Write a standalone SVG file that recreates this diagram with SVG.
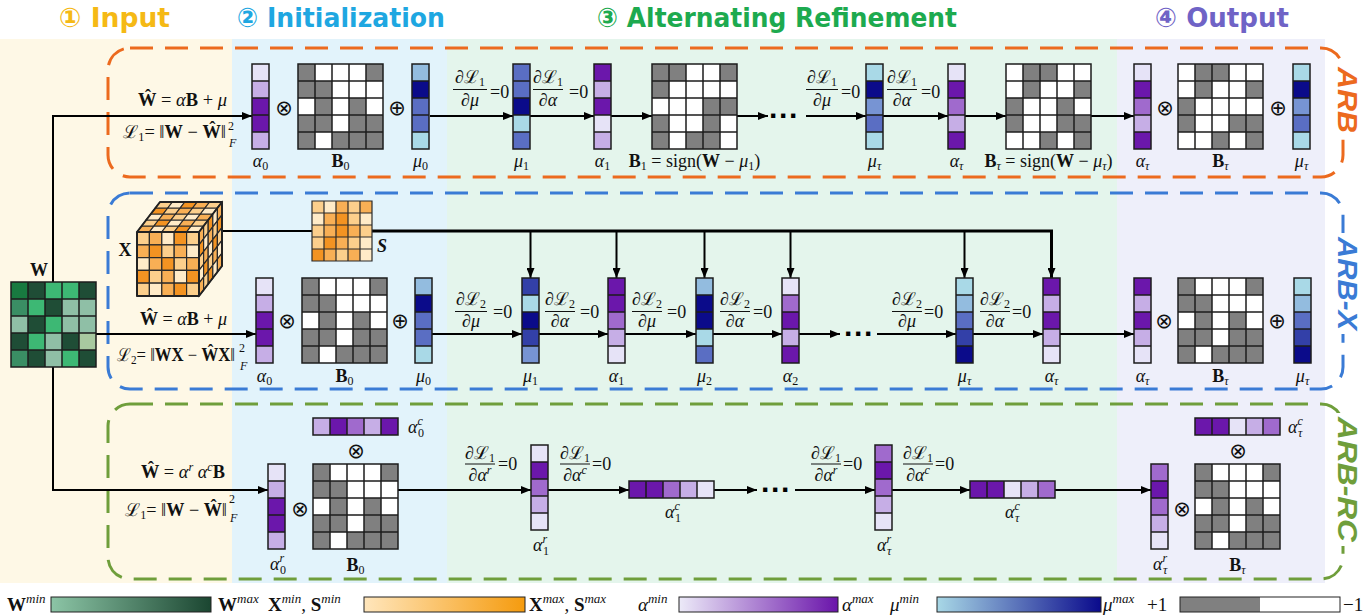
<svg xmlns="http://www.w3.org/2000/svg" xmlns:xlink="http://www.w3.org/1999/xlink" width="1367" height="616" viewBox="0 0 1367 616">
<style>
.t{font-family:'Liberation Serif','DejaVu Serif',serif;font-size:18px;fill:#111}
.i{font-style:italic}
.b{font-weight:bold}
.sb{font-size:12px}
.lb{text-anchor:middle}
.op{font-family:'DejaVu Sans',sans-serif;font-size:21px;text-anchor:middle;fill:#111}
.hd{font-family:'Liberation Sans Narrow','DejaVu Sans Condensed','Liberation Sans',sans-serif;font-weight:bold;font-size:27px;text-anchor:middle}
.rl{font-family:'Liberation Sans',sans-serif;font-weight:bold;font-style:italic;font-size:27px;text-anchor:middle}
.dt{font-family:'Liberation Sans',sans-serif;font-weight:bold;font-size:30px;text-anchor:middle;fill:#000}
.lg{font-size:19px}
.ls{font-size:13px;font-style:italic}
.p1{fill:#E6E3F7}.p2{fill:#C6AEE6}.p3{fill:#A06ACD}.p4{fill:#6B17AB}
.u1{fill:#A9D9E7}.u2{fill:#93BCDF}.u3{fill:#7794D3}.u4{fill:#5A6EC3}.u5{fill:#3340A8}.u6{fill:#0B0B8A}
.gp{fill:#808080}
.o1{fill:#FFEBC8}.o2{fill:#FCCF8C}.o3{fill:#F8AF55}.o4{fill:#F39322}
.cb rect{stroke:#2a2a2a;stroke-width:1.2;vector-effect:non-scaling-stroke}
.ln{fill:none;stroke:#000;stroke-width:2;marker-end:url(#ah)}
.db{fill:none;stroke-width:3;stroke-dasharray:23 12}
.fl{stroke:#111;stroke-width:1}
.gr{fill:none;stroke:#1c1c1c;stroke-width:1.5}
</style>
<defs>
<marker id="ah" viewBox="0 0 10 8" refX="10" refY="4" markerWidth="10" markerHeight="8" markerUnits="userSpaceOnUse" orient="auto"><path d="M0,0L10,4L0,8z" fill="#000"/></marker>
<path id="vg" class="gr" d="M0,0H17V85H0Z M0,17H17M0,34H17M0,51H17M0,68H17"/>
<path id="hg" class="gr" d="M0,0H85V17H0Z M17,0V17M34,0V17M51,0V17M68,0V17"/>
<path id="mg" class="gr" d="M0,0H85V85H0Z M17,0V85M34,0V85M51,0V85M68,0V85M0,17H85M0,34H85M0,51H85M0,68H85"/>
<g id="mB0"><rect width="85" height="85" fill="#fff"/><path class="gp" d="M0,0h17v17h-17z M68,0h17v17h-17z M0,17h34v17h-34z M17,34h17v17h-17z M51,34h17v17h-17z M0,51h34v17h-34z M51,51h34v17h-34z M0,68h17v17h-17z M34,68h51v17h-51z"/><use href="#mg"/></g>
<g id="mB1"><rect width="85" height="85" fill="#fff"/><path class="gp" d="M0,0h34v17h-34z M68,0h17v17h-17z M0,17h17v17h-17z M51,34h34v17h-34z M0,51h17v17h-17z M51,51h17v17h-17z M0,68h17v17h-17z M34,68h34v17h-34z"/><use href="#mg"/></g>
<g id="mBr"><rect width="85" height="85" fill="#fff"/><path class="gp" d="M17,0h34v17h-34z M17,17h17v17h-17z M68,17h17v17h-17z M0,34h17v17h-17z M51,34h17v17h-17z M0,51h17v17h-17z M51,51h34v17h-34z M34,68h17v17h-17z M68,68h17v17h-17z"/><use href="#mg"/></g>
<g id="mBo"><rect width="85" height="85" fill="#fff"/><path class="gp" d="M17,0h34v17h-34z M17,17h17v17h-17z M68,17h17v17h-17z M0,34h17v17h-17z M0,51h17v17h-17z M51,51h34v17h-34z M34,68h17v17h-17z M68,68h17v17h-17z"/><use href="#mg"/></g>
<linearGradient id="gW"><stop offset="0" stop-color="#8CC5A6"/><stop offset="1" stop-color="#1B4631"/></linearGradient>
<linearGradient id="gX"><stop offset="0" stop-color="#FFE6BC"/><stop offset="1" stop-color="#F59B0E"/></linearGradient>
<linearGradient id="gA"><stop offset="0" stop-color="#ECEAF8"/><stop offset="1" stop-color="#6A14AA"/></linearGradient>
<linearGradient id="gM"><stop offset="0" stop-color="#A8D8E6"/><stop offset="1" stop-color="#0A0A8C"/></linearGradient>
</defs>

<rect width="1367" height="616" fill="#fff"/>
<g id="panels">
<rect x="0" y="39" width="232" height="544" fill="#FEF8E6"/>
<rect x="232" y="39" width="215" height="544" fill="#E2F3FB"/>
<rect x="447" y="39" width="670" height="544" fill="#E4F5EC"/>
<rect x="1117" y="39" width="208" height="544" fill="#EEEFFA"/>
</g>
<g id="headers">
<text class="hd" x="114.5" y="27" fill="#F5B915" textLength="111" lengthAdjust="spacingAndGlyphs">① Input</text>
<text class="hd" x="341" y="27" fill="#1EA7E1" textLength="208" lengthAdjust="spacingAndGlyphs">② Initialization</text>
<text class="hd" x="777" y="27" fill="#1DAA4F" textLength="360" lengthAdjust="spacingAndGlyphs">③ Alternating Refinement</text>
<text class="hd" x="1222" y="27" fill="#6F63C6" textLength="134" lengthAdjust="spacingAndGlyphs">④ Output</text>
</g>

<g id="frames">
<rect class="db" x="108" y="48" width="1235" height="129" rx="22" stroke="#EC6A1E"/>
<rect class="db" x="108" y="193" width="1235" height="196" rx="22" stroke="#3A7BD5"/>
<rect class="db" x="108" y="404" width="1235" height="175" rx="22" stroke="#6F9E3B"/>
<rect x="1330" y="64" width="28" height="73" fill="#fff"/>
<text class="rl" transform="translate(1338,100) rotate(90)" fill="#EC6A1E" textLength="66" lengthAdjust="spacingAndGlyphs">ARB</text>
<rect x="1330" y="233" width="28" height="101" fill="#fff"/>
<text class="rl" transform="translate(1338,283.5) rotate(90)" fill="#3A7BD5" textLength="93" lengthAdjust="spacingAndGlyphs">ARB-X</text>
<rect x="1330" y="413" width="28" height="133" fill="#fff"/>
<text class="rl" transform="translate(1338,479.5) rotate(90)" fill="#6F9E3B" textLength="125" lengthAdjust="spacingAndGlyphs">ARB-RC</text>
</g>

<g id="connectors">
<path class="ln" d="M53,300V116H252"/>
<path class="ln" d="M53,300V490H268"/>
<path class="ln" d="M96,334H256"/>
<path class="ln" d="M430,116H513"/>
<path class="ln" d="M530,116H594"/>
<path class="ln" d="M611,116H652"/>
<path class="ln" d="M737,116H768"/>
<path class="ln" d="M806,116H866"/>
<path class="ln" d="M883,116H948"/>
<path class="ln" d="M965,116H1006"/>
<path class="ln" d="M1091,116H1134"/>
<path class="ln" d="M432,334H522"/>
<path class="ln" d="M539,334H608"/>
<path class="ln" d="M625,334H696"/>
<path class="ln" d="M713,334H782"/>
<path class="ln" d="M799,334H840"/>
<path class="ln" d="M877,334H956"/>
<path class="ln" d="M973,334H1043"/>
<path class="ln" d="M1060,334H1134"/>
<path d="M222,231H312" fill="none" stroke="#000" stroke-width="2"/>
<path class="ln" d="M372,231H1051.5V278" style="stroke-width:3"/>
<path class="ln" d="M530.5,231V278"/>
<path class="ln" d="M616.5,231V278"/>
<path class="ln" d="M704.5,231V278"/>
<path class="ln" d="M790.5,231V278"/>
<path class="ln" d="M964.5,231V278"/>
<path class="ln" d="M398,490H531"/>
<path class="ln" d="M548,490H629"/>
<path class="ln" d="M714,490H757"/>
<path class="ln" d="M795,490H875"/>
<path class="ln" d="M892,490H970"/>
<path class="ln" d="M1055,490H1151"/>
<text class="dt" x="784" y="126">···</text>
<text class="dt" x="859" y="344">···</text>
<text class="dt" x="776" y="500">···</text>
</g>

<g id="edge-labels">
<text class="t lb" x="470" y="83">∂ℒ<tspan class="sb" dy="3">1</tspan></text><line class="fl" x1="453" y1="89.5" x2="487" y2="89.5"/><text class="t lb" x="470" y="106">∂<tspan class="i">μ</tspan></text><text class="t" x="490" y="98">=0</text>
<text class="t lb" x="548" y="83">∂ℒ<tspan class="sb" dy="3">1</tspan></text><line class="fl" x1="533" y1="89.5" x2="563" y2="89.5"/><text class="t lb" x="548" y="106">∂<tspan class="i">α</tspan></text><text class="t" x="569" y="98">=0</text>
<text class="t lb" x="822" y="83">∂ℒ<tspan class="sb" dy="3">1</tspan></text><line class="fl" x1="806" y1="89.5" x2="838" y2="89.5"/><text class="t lb" x="822" y="106">∂<tspan class="i">μ</tspan></text><text class="t" x="841" y="98">=0</text>
<text class="t lb" x="902" y="83">∂ℒ<tspan class="sb" dy="3">1</tspan></text><line class="fl" x1="887" y1="89.5" x2="917" y2="89.5"/><text class="t lb" x="902" y="106">∂<tspan class="i">α</tspan></text><text class="t" x="921" y="98">=0</text>
<text class="t lb" x="471" y="305">∂ℒ<tspan class="sb" dy="3">2</tspan></text><line class="fl" x1="455" y1="311.5" x2="487" y2="311.5"/><text class="t lb" x="471" y="327">∂<tspan class="i">μ</tspan></text><text class="t" x="493" y="318">=0</text>
<text class="t lb" x="560" y="305">∂ℒ<tspan class="sb" dy="3">2</tspan></text><line class="fl" x1="545" y1="311.5" x2="575" y2="311.5"/><text class="t lb" x="560" y="327">∂<tspan class="i">α</tspan></text><text class="t" x="580" y="318">=0</text>
<text class="t lb" x="647" y="305">∂ℒ<tspan class="sb" dy="3">2</tspan></text><line class="fl" x1="632" y1="311.5" x2="662" y2="311.5"/><text class="t lb" x="647" y="327">∂<tspan class="i">μ</tspan></text><text class="t" x="667" y="318">=0</text>
<text class="t lb" x="735" y="305">∂ℒ<tspan class="sb" dy="3">2</tspan></text><line class="fl" x1="720" y1="311.5" x2="750" y2="311.5"/><text class="t lb" x="735" y="327">∂<tspan class="i">α</tspan></text><text class="t" x="753" y="318">=0</text>
<text class="t lb" x="907" y="305">∂ℒ<tspan class="sb" dy="3">2</tspan></text><line class="fl" x1="892" y1="311.5" x2="922" y2="311.5"/><text class="t lb" x="907" y="327">∂<tspan class="i">μ</tspan></text><text class="t" x="924" y="318">=0</text>
<text class="t lb" x="995" y="305">∂ℒ<tspan class="sb" dy="3">2</tspan></text><line class="fl" x1="980" y1="311.5" x2="1010" y2="311.5"/><text class="t lb" x="995" y="327">∂<tspan class="i">α</tspan></text><text class="t" x="1012" y="318">=0</text>
<text class="t lb" x="480" y="459">∂ℒ<tspan class="sb" dy="3">1</tspan></text><line class="fl" x1="465" y1="464" x2="495" y2="464"/><text class="t lb" x="480" y="481">∂<tspan class="i">α</tspan><tspan class="sb i" dy="-7">r</tspan></text><text class="t" x="498" y="470">=0</text>
<text class="t lb" x="575" y="459">∂ℒ<tspan class="sb" dy="3">1</tspan></text><line class="fl" x1="560" y1="464" x2="590" y2="464"/><text class="t lb" x="575" y="481">∂<tspan class="i">α</tspan><tspan class="sb i" dy="-7">c</tspan></text><text class="t" x="592" y="470">=0</text>
<text class="t lb" x="826" y="459">∂ℒ<tspan class="sb" dy="3">1</tspan></text><line class="fl" x1="811" y1="464" x2="841" y2="464"/><text class="t lb" x="826" y="481">∂<tspan class="i">α</tspan><tspan class="sb i" dy="-7">r</tspan></text><text class="t" x="843" y="470">=0</text>
<text class="t lb" x="918" y="459">∂ℒ<tspan class="sb" dy="3">1</tspan></text><line class="fl" x1="903" y1="464" x2="933" y2="464"/><text class="t lb" x="918" y="481">∂<tspan class="i">α</tspan><tspan class="sb i" dy="-7">c</tspan></text><text class="t" x="935" y="470">=0</text>
</g>

<g id="input-W">
<g transform="translate(11,282)">
<rect x="0" y="0" width="17" height="17" fill="#187A40"/><rect x="17" y="0" width="17" height="17" fill="#1F4D36"/><rect x="34" y="0" width="17" height="17" fill="#3DB874"/><rect x="51" y="0" width="17" height="17" fill="#3DB874"/><rect x="68" y="0" width="17" height="17" fill="#1F4D36"/>
<rect x="0" y="17" width="17" height="17" fill="#3A8E64"/><rect x="17" y="17" width="17" height="17" fill="#3DB874"/><rect x="34" y="17" width="17" height="17" fill="#1F4D36"/><rect x="51" y="17" width="17" height="17" fill="#8FBFA6"/><rect x="68" y="17" width="17" height="17" fill="#8FBFA6"/>
<rect x="0" y="34" width="17" height="17" fill="#8FBFA6"/><rect x="17" y="34" width="17" height="17" fill="#1F4D36"/><rect x="34" y="34" width="17" height="17" fill="#3DB874"/><rect x="51" y="34" width="17" height="17" fill="#8FBFA6"/><rect x="68" y="34" width="17" height="17" fill="#8FBFA6"/>
<rect x="0" y="51" width="17" height="17" fill="#1F4D36"/><rect x="17" y="51" width="17" height="17" fill="#3DB874"/><rect x="34" y="51" width="17" height="17" fill="#8FBFA6"/><rect x="51" y="51" width="17" height="17" fill="#1F4D36"/><rect x="68" y="51" width="17" height="17" fill="#A8C9A0"/>
<rect x="0" y="68" width="17" height="17" fill="#3A8E64"/><rect x="17" y="68" width="17" height="17" fill="#1F4D36"/><rect x="34" y="68" width="17" height="17" fill="#8FBFA6"/><rect x="51" y="68" width="17" height="17" fill="#3DB874"/><rect x="68" y="68" width="17" height="17" fill="#1F4D36"/>
<use href="#mg"/>
</g>
<text class="t b lb" x="39" y="276">W</text>
</g>

<g id="left-equations">
<text class="t" x="138" y="106" textLength="89" lengthAdjust="spacingAndGlyphs"><tspan class="b">Ŵ</tspan> = <tspan class="i">α</tspan><tspan class="b">B</tspan> + <tspan class="i">μ</tspan></text>
<text class="t" x="123" y="138" textLength="103" lengthAdjust="spacingAndGlyphs">ℒ<tspan class="sb" dy="3">1</tspan><tspan dy="-3">= ‖</tspan><tspan class="b">W</tspan> − <tspan class="b">Ŵ</tspan>‖</text>
<text class="t sb" x="228" y="130">2</text><text class="t sb i" x="229" y="147">F</text>
<text class="t" x="140" y="325" textLength="87" lengthAdjust="spacingAndGlyphs"><tspan class="b">Ŵ</tspan> = <tspan class="i">α</tspan><tspan class="b">B</tspan> + <tspan class="i">μ</tspan></text>
<text class="t" x="117" y="361" textLength="118" lengthAdjust="spacingAndGlyphs">ℒ<tspan class="sb" dy="3">2</tspan><tspan dy="-3">= ‖</tspan><tspan class="b">WX</tspan> − <tspan class="b">ŴX</tspan>‖</text>
<text class="t sb" x="239" y="352">2</text><text class="t sb i" x="240" y="370">F</text>
<text class="t" x="141" y="478" textLength="84" lengthAdjust="spacingAndGlyphs"><tspan class="b">Ŵ</tspan> = <tspan class="i">α</tspan><tspan class="sb i" dy="-7">r</tspan><tspan class="i" dy="7"> α</tspan><tspan class="sb i" dy="-7">c</tspan><tspan class="b" dy="7">B</tspan></text>
<text class="t" x="125" y="516" textLength="102" lengthAdjust="spacingAndGlyphs">ℒ<tspan class="sb" dy="3">1</tspan><tspan dy="-3">= ‖</tspan><tspan class="b">W</tspan> − <tspan class="b">Ŵ</tspan>‖</text>
<text class="t sb" x="229" y="503">2</text><text class="t sb i" x="230" y="522">F</text>
</g>

<g id="input-X" class="cb">
<g transform="translate(137,232)">
<rect class="o2" x="0" y="0" width="12.4" height="12.8"/><rect class="o3" x="12.4" y="0" width="12.4" height="12.8"/><rect class="o1" x="24.8" y="0" width="12.4" height="12.8"/><rect class="o4" x="37.2" y="0" width="12.4" height="12.8"/><rect class="o2" x="49.6" y="0" width="12.4" height="12.8"/>
<rect class="o3" x="0" y="12.8" width="12.4" height="12.8"/><rect class="o4" x="12.4" y="12.8" width="12.4" height="12.8"/><rect class="o2" x="24.8" y="12.8" width="12.4" height="12.8"/><rect class="o3" x="37.2" y="12.8" width="12.4" height="12.8"/><rect class="o1" x="49.6" y="12.8" width="12.4" height="12.8"/>
<rect class="o1" x="0" y="25.6" width="12.4" height="12.8"/><rect class="o3" x="12.4" y="25.6" width="12.4" height="12.8"/><rect class="o4" x="24.8" y="25.6" width="12.4" height="12.8"/><rect class="o2" x="37.2" y="25.6" width="12.4" height="12.8"/><rect class="o3" x="49.6" y="25.6" width="12.4" height="12.8"/>
<rect class="o4" x="0" y="38.4" width="12.4" height="12.8"/><rect class="o2" x="12.4" y="38.4" width="12.4" height="12.8"/><rect class="o3" x="24.8" y="38.4" width="12.4" height="12.8"/><rect class="o1" x="37.2" y="38.4" width="12.4" height="12.8"/><rect class="o4" x="49.6" y="38.4" width="12.4" height="12.8"/>
<rect class="o2" x="0" y="51.2" width="12.4" height="12.8"/><rect class="o1" x="12.4" y="51.2" width="12.4" height="12.8"/><rect class="o3" x="24.8" y="51.2" width="12.4" height="12.8"/><rect class="o4" x="37.2" y="51.2" width="12.4" height="12.8"/><rect class="o2" x="49.6" y="51.2" width="12.4" height="12.8"/>
</g>
<g transform="matrix(1,0,0.371,-0.484,137,232)">
<rect class="o3" x="0" y="0" width="12.4" height="12.4"/><rect class="o1" x="12.4" y="0" width="12.4" height="12.4"/><rect class="o2" x="24.8" y="0" width="12.4" height="12.4"/><rect class="o4" x="37.2" y="0" width="12.4" height="12.4"/><rect class="o1" x="49.6" y="0" width="12.4" height="12.4"/>
<rect class="o2" x="0" y="12.4" width="12.4" height="12.4"/><rect class="o4" x="12.4" y="12.4" width="12.4" height="12.4"/><rect class="o1" x="24.8" y="12.4" width="12.4" height="12.4"/><rect class="o3" x="37.2" y="12.4" width="12.4" height="12.4"/><rect class="o2" x="49.6" y="12.4" width="12.4" height="12.4"/>
<rect class="o1" x="0" y="24.8" width="12.4" height="12.4"/><rect class="o3" x="12.4" y="24.8" width="12.4" height="12.4"/><rect class="o2" x="24.8" y="24.8" width="12.4" height="12.4"/><rect class="o1" x="37.2" y="24.8" width="12.4" height="12.4"/><rect class="o3" x="49.6" y="24.8" width="12.4" height="12.4"/>
<rect class="o4" x="0" y="37.2" width="12.4" height="12.4"/><rect class="o2" x="12.4" y="37.2" width="12.4" height="12.4"/><rect class="o3" x="24.8" y="37.2" width="12.4" height="12.4"/><rect class="o2" x="37.2" y="37.2" width="12.4" height="12.4"/><rect class="o1" x="49.6" y="37.2" width="12.4" height="12.4"/>
<rect class="o2" x="0" y="49.6" width="12.4" height="12.4"/><rect class="o1" x="12.4" y="49.6" width="12.4" height="12.4"/><rect class="o4" x="24.8" y="49.6" width="12.4" height="12.4"/><rect class="o3" x="37.2" y="49.6" width="12.4" height="12.4"/><rect class="o2" x="49.6" y="49.6" width="12.4" height="12.4"/>
</g>
<g transform="matrix(0.371,-0.484,0,1,199,232)">
<rect class="o3" x="0" y="0" width="12.4" height="12.8"/><rect class="o2" x="12.4" y="0" width="12.4" height="12.8"/><rect class="o4" x="24.8" y="0" width="12.4" height="12.8"/><rect class="o1" x="37.2" y="0" width="12.4" height="12.8"/><rect class="o3" x="49.6" y="0" width="12.4" height="12.8"/>
<rect class="o4" x="0" y="12.8" width="12.4" height="12.8"/><rect class="o1" x="12.4" y="12.8" width="12.4" height="12.8"/><rect class="o3" x="24.8" y="12.8" width="12.4" height="12.8"/><rect class="o2" x="37.2" y="12.8" width="12.4" height="12.8"/><rect class="o4" x="49.6" y="12.8" width="12.4" height="12.8"/>
<rect class="o2" x="0" y="25.6" width="12.4" height="12.8"/><rect class="o3" x="12.4" y="25.6" width="12.4" height="12.8"/><rect class="o1" x="24.8" y="25.6" width="12.4" height="12.8"/><rect class="o4" x="37.2" y="25.6" width="12.4" height="12.8"/><rect class="o2" x="49.6" y="25.6" width="12.4" height="12.8"/>
<rect class="o1" x="0" y="38.4" width="12.4" height="12.8"/><rect class="o4" x="12.4" y="38.4" width="12.4" height="12.8"/><rect class="o2" x="24.8" y="38.4" width="12.4" height="12.8"/><rect class="o3" x="37.2" y="38.4" width="12.4" height="12.8"/><rect class="o1" x="49.6" y="38.4" width="12.4" height="12.8"/>
<rect class="o3" x="0" y="51.2" width="12.4" height="12.8"/><rect class="o2" x="12.4" y="51.2" width="12.4" height="12.8"/><rect class="o4" x="24.8" y="51.2" width="12.4" height="12.8"/><rect class="o1" x="37.2" y="51.2" width="12.4" height="12.8"/><rect class="o3" x="49.6" y="51.2" width="12.4" height="12.8"/>
</g>
<path d="M137,232L160,202H222V266L199,296H137Z M137,232H199L222,202 M199,232V296" fill="none" stroke="#222" stroke-width="2" stroke-linejoin="round"/>
<text class="t b lb" x="125" y="256">X</text>
</g>

<g id="S">
<g transform="translate(312,201)">
<rect class="o2" x="0" y="0" width="12" height="12"/><rect class="o1" x="12" y="0" width="12" height="12"/><rect class="o3" x="24" y="0" width="12" height="12"/><rect class="o2" x="36" y="0" width="12" height="12"/><rect class="o3" x="48" y="0" width="12" height="12"/>
<rect class="o1" x="0" y="12" width="12" height="12"/><rect class="o3" x="12" y="12" width="12" height="12"/><rect class="o4" x="24" y="12" width="12" height="12"/><rect class="o2" x="36" y="12" width="12" height="12"/><rect class="o1" x="48" y="12" width="12" height="12"/>
<rect class="o2" x="0" y="24" width="12" height="12"/><rect class="o3" x="12" y="24" width="12" height="12"/><rect class="o4" x="24" y="24" width="12" height="12"/><rect class="o3" x="36" y="24" width="12" height="12"/><rect class="o2" x="48" y="24" width="12" height="12"/>
<rect class="o2" x="0" y="36" width="12" height="12"/><rect class="o4" x="12" y="36" width="12" height="12"/><rect class="o3" x="24" y="36" width="12" height="12"/><rect class="o2" x="36" y="36" width="12" height="12"/><rect class="o1" x="48" y="36" width="12" height="12"/>
<rect class="o4" x="0" y="48" width="12" height="12"/><rect class="o3" x="12" y="48" width="12" height="12"/><rect class="o2" x="24" y="48" width="12" height="12"/><rect class="o3" x="36" y="48" width="12" height="12"/><rect class="o1" x="48" y="48" width="12" height="12"/>
<path d="M0,0H60V60H0Z M12,0V60M24,0V60M36,0V60M48,0V60M0,12H60M0,24H60M0,36H60M0,48H60" fill="none" stroke="#2a2a2a" stroke-width="1.2"/>
</g>
<text class="t b i" x="377" y="252">S</text>
</g>

<g id="r1-alpha0" transform="translate(252,64)"><rect class="p1" width="17" height="17"/><rect class="p2" y="17" width="17" height="17"/><rect class="p4" y="34" width="17" height="17"/><rect class="p4" y="51" width="17" height="17"/><rect class="p2" y="68" width="17" height="17"/><use href="#vg"/><text class="t lb" x="8.5" y="103"><tspan class="i">α</tspan><tspan class="sb" dy="3">0</tspan></text></g>
<text class="op" x="284" y="114.5">⊗</text>
<g id="r1-B0" transform="translate(298,64)"><use href="#mB0"/><text class="t lb" x="42.5" y="103"><tspan class="b">B</tspan><tspan class="sb" dy="3">0</tspan></text></g>
<text class="op" x="397" y="114.5">⊕</text>
<g id="r1-mu0" transform="translate(412,64)"><rect class="u2" width="17" height="17"/><rect class="u6" y="17" width="17" height="17"/><rect class="u4" y="34" width="17" height="17"/><rect class="u4" y="51" width="17" height="17"/><rect class="u1" y="68" width="17" height="17"/><use href="#vg"/><text class="t lb" x="8.5" y="103"><tspan class="i">μ</tspan><tspan class="sb" dy="3">0</tspan></text></g>
<g id="r1-mu1" transform="translate(513,64)"><rect class="u4" width="17" height="17"/><rect class="u4" y="17" width="17" height="17"/><rect class="u6" y="34" width="17" height="17"/><rect class="u1" y="51" width="17" height="17"/><rect class="u4" y="68" width="17" height="17"/><use href="#vg"/><text class="t lb" x="8.5" y="103"><tspan class="i">μ</tspan><tspan class="sb" dy="3">1</tspan></text></g>
<g id="r1-alpha1" transform="translate(594,64)"><rect class="p4" width="17" height="17"/><rect class="p2" y="17" width="17" height="17"/><rect class="p4" y="34" width="17" height="17"/><rect class="p1" y="51" width="17" height="17"/><rect class="p2" y="68" width="17" height="17"/><use href="#vg"/><text class="t lb" x="8.5" y="103"><tspan class="i">α</tspan><tspan class="sb" dy="3">1</tspan></text></g>
<g id="r1-B1" transform="translate(652,64)"><use href="#mB1"/><text class="t lb" x="42.5" y="103"><tspan class="b">B</tspan><tspan class="sb" dy="3">1</tspan><tspan dy="-3"> = sign(</tspan><tspan class="b">W</tspan> − <tspan class="i">μ</tspan><tspan class="sb" dy="3">1</tspan><tspan dy="-3">)</tspan></text></g>
<g id="r1-mutau" transform="translate(866,64)"><rect class="u1" width="17" height="17"/><rect class="u6" y="17" width="17" height="17"/><rect class="u3" y="34" width="17" height="17"/><rect class="u4" y="51" width="17" height="17"/><rect class="u1" y="68" width="17" height="17"/><use href="#vg"/><text class="t lb" x="8.5" y="103"><tspan class="i">μ</tspan><tspan class="sb i" dy="3">τ</tspan></text></g>
<g id="r1-alphatau" transform="translate(948,64)"><rect class="p1" width="17" height="17"/><rect class="p4" y="17" width="17" height="17"/><rect class="p3" y="34" width="17" height="17"/><rect class="p2" y="51" width="17" height="17"/><rect class="p4" y="68" width="17" height="17"/><use href="#vg"/><text class="t lb" x="8.5" y="103"><tspan class="i">α</tspan><tspan class="sb i" dy="3">τ</tspan></text></g>
<g id="r1-Btau" transform="translate(1006,64)"><use href="#mBr"/><text class="t lb" x="42.5" y="103"><tspan class="b">B</tspan><tspan class="sb i" dy="3">τ</tspan><tspan dy="-3"> = sign(</tspan><tspan class="b">W</tspan> − <tspan class="i">μ</tspan><tspan class="sb i" dy="3">τ</tspan><tspan dy="-3">)</tspan></text></g>
<g id="r1-out-alpha" transform="translate(1134,64)"><rect class="p1" width="17" height="17"/><rect class="p4" y="17" width="17" height="17"/><rect class="p3" y="34" width="17" height="17"/><rect class="p2" y="51" width="17" height="17"/><rect class="p4" y="68" width="17" height="17"/><use href="#vg"/><text class="t lb" x="8.5" y="103"><tspan class="i">α</tspan><tspan class="sb i" dy="3">τ</tspan></text></g>
<text class="op" x="1165" y="114.5">⊗</text>
<g id="r1-out-B" transform="translate(1178,64)"><use href="#mBo"/><text class="t lb" x="42.5" y="103"><tspan class="b">B</tspan><tspan class="sb i" dy="3">τ</tspan></text></g>
<text class="op" x="1278" y="114.5">⊕</text>
<g id="r1-out-mu" transform="translate(1293,64)"><rect class="u1" width="17" height="17"/><rect class="u6" y="17" width="17" height="17"/><rect class="u3" y="34" width="17" height="17"/><rect class="u4" y="51" width="17" height="17"/><rect class="u1" y="68" width="17" height="17"/><use href="#vg"/><text class="t lb" x="8.5" y="103"><tspan class="i">μ</tspan><tspan class="sb i" dy="3">τ</tspan></text></g>

<g id="r2-alpha0" transform="translate(256,278)"><rect class="p1" width="17" height="17"/><rect class="p2" y="17" width="17" height="17"/><rect class="p4" y="34" width="17" height="17"/><rect class="p4" y="51" width="17" height="17"/><rect class="p2" y="68" width="17" height="17"/><use href="#vg"/><text class="t lb" x="8.5" y="104"><tspan class="i">α</tspan><tspan class="sb" dy="3">0</tspan></text></g>
<text class="op" x="287" y="328">⊗</text>
<g id="r2-B0" transform="translate(302,278)"><use href="#mB0"/><text class="t lb" x="42.5" y="104"><tspan class="b">B</tspan><tspan class="sb" dy="3">0</tspan></text></g>
<text class="op" x="400" y="328">⊕</text>
<g id="r2-mu0" transform="translate(415,278)"><rect class="u2" width="17" height="17"/><rect class="u6" y="17" width="17" height="17"/><rect class="u4" y="34" width="17" height="17"/><rect class="u4" y="51" width="17" height="17"/><rect class="u1" y="68" width="17" height="17"/><use href="#vg"/><text class="t lb" x="8.5" y="104"><tspan class="i">μ</tspan><tspan class="sb" dy="3">0</tspan></text></g>
<g id="r2-mu1" transform="translate(522,278)"><rect class="u5" width="17" height="17"/><rect class="u1" y="17" width="17" height="17"/><rect class="u6" y="34" width="17" height="17"/><rect class="u5" y="51" width="17" height="17"/><rect class="u3" y="68" width="17" height="17"/><use href="#vg"/><text class="t lb" x="8.5" y="104"><tspan class="i">μ</tspan><tspan class="sb" dy="3">1</tspan></text></g>
<g id="r2-alpha1" transform="translate(608,278)"><rect class="p4" width="17" height="17"/><rect class="p4" y="17" width="17" height="17"/><rect class="p3" y="34" width="17" height="17"/><rect class="p2" y="51" width="17" height="17"/><rect class="p1" y="68" width="17" height="17"/><use href="#vg"/><text class="t lb" x="8.5" y="104"><tspan class="i">α</tspan><tspan class="sb" dy="3">1</tspan></text></g>
<g id="r2-mu2" transform="translate(696,278)"><rect class="u2" width="17" height="17"/><rect class="u6" y="17" width="17" height="17"/><rect class="u6" y="34" width="17" height="17"/><rect class="u1" y="51" width="17" height="17"/><rect class="u4" y="68" width="17" height="17"/><use href="#vg"/><text class="t lb" x="8.5" y="104"><tspan class="i">μ</tspan><tspan class="sb" dy="3">2</tspan></text></g>
<g id="r2-alpha2" transform="translate(782,278)"><rect class="p1" width="17" height="17"/><rect class="p3" y="17" width="17" height="17"/><rect class="p4" y="34" width="17" height="17"/><rect class="p2" y="51" width="17" height="17"/><rect class="p4" y="68" width="17" height="17"/><use href="#vg"/><text class="t lb" x="8.5" y="104"><tspan class="i">α</tspan><tspan class="sb" dy="3">2</tspan></text></g>
<g id="r2-mutau" transform="translate(956,278)"><rect class="u1" width="17" height="17"/><rect class="u2" y="17" width="17" height="17"/><rect class="u4" y="34" width="17" height="17"/><rect class="u5" y="51" width="17" height="17"/><rect class="u6" y="68" width="17" height="17"/><use href="#vg"/><text class="t lb" x="8.5" y="104"><tspan class="i">μ</tspan><tspan class="sb i" dy="3">τ</tspan></text></g>
<g id="r2-alphatau" transform="translate(1043,278)"><rect class="p4" width="17" height="17"/><rect class="p2" y="17" width="17" height="17"/><rect class="p4" y="34" width="17" height="17"/><rect class="p2" y="51" width="17" height="17"/><rect class="p1" y="68" width="17" height="17"/><use href="#vg"/><text class="t lb" x="8.5" y="104"><tspan class="i">α</tspan><tspan class="sb i" dy="3">τ</tspan></text></g>
<g id="r2-out-alpha" transform="translate(1134,278)"><rect class="p4" width="17" height="17"/><rect class="p2" y="17" width="17" height="17"/><rect class="p4" y="34" width="17" height="17"/><rect class="p2" y="51" width="17" height="17"/><rect class="p1" y="68" width="17" height="17"/><use href="#vg"/><text class="t lb" x="8.5" y="104"><tspan class="i">α</tspan><tspan class="sb i" dy="3">τ</tspan></text></g>
<text class="op" x="1164" y="328">⊗</text>
<g id="r2-out-B" transform="translate(1178,278)"><use href="#mB0"/><text class="t lb" x="42.5" y="104"><tspan class="b">B</tspan><tspan class="sb i" dy="3">τ</tspan></text></g>
<text class="op" x="1277" y="328">⊕</text>
<g id="r2-out-mu" transform="translate(1294,278)"><rect class="u1" width="17" height="17"/><rect class="u2" y="17" width="17" height="17"/><rect class="u4" y="34" width="17" height="17"/><rect class="u5" y="51" width="17" height="17"/><rect class="u6" y="68" width="17" height="17"/><use href="#vg"/><text class="t lb" x="8.5" y="104"><tspan class="i">μ</tspan><tspan class="sb i" dy="3">τ</tspan></text></g>

<g id="r3-alpha0c" transform="translate(313,418)"><rect class="p2" width="17" height="17"/><rect class="p4" x="17" width="17" height="17"/><rect class="p3" x="34" width="17" height="17"/><rect class="p2" x="51" width="17" height="17"/><rect class="p4" x="68" width="17" height="17"/><use href="#hg"/><text class="t" x="95" y="15"><tspan class="i">α</tspan><tspan class="sb i" dy="-8">c</tspan><tspan class="sb" x="105" dy="12">0</tspan></text></g>
<text class="op" x="356" y="457.5">⊗</text>
<g id="r3-alpha0r" transform="translate(268,464)"><rect class="p1" width="17" height="17"/><rect class="p2" y="17" width="17" height="17"/><rect class="p4" y="34" width="17" height="17"/><rect class="p4" y="51" width="17" height="17"/><rect class="p2" y="68" width="17" height="17"/><use href="#vg"/><text class="t" x="2" y="106"><tspan class="i">α</tspan><tspan class="sb i" dy="-8">r</tspan><tspan class="sb" x="12" dy="12">0</tspan></text></g>
<text class="op" x="300" y="515.5">⊗</text>
<g id="r3-B0" transform="translate(313,464)"><use href="#mB0"/><text class="t lb" x="42.5" y="107"><tspan class="b">B</tspan><tspan class="sb" dy="3">0</tspan></text></g>
<g id="r3-alpha1r" transform="translate(531,445)"><rect class="p1" width="17" height="17"/><rect class="p4" y="17" width="17" height="17"/><rect class="p3" y="34" width="17" height="17"/><rect class="p2" y="51" width="17" height="17"/><rect class="p1" y="68" width="17" height="17"/><use href="#vg"/><text class="t" x="2" y="106"><tspan class="i">α</tspan><tspan class="sb i" dy="-8">r</tspan><tspan class="sb" x="12" dy="12">1</tspan></text></g>
<g id="r3-alpha1c" transform="translate(629,481)"><rect class="p4" width="17" height="17"/><rect class="p4" x="17" width="17" height="17"/><rect class="p3" x="34" width="17" height="17"/><rect class="p2" x="51" width="17" height="17"/><rect class="p1" x="68" width="17" height="17"/><use href="#hg"/><text class="t" x="36" y="37"><tspan class="i">α</tspan><tspan class="sb i" dy="-8">c</tspan><tspan class="sb" x="46" dy="12">1</tspan></text></g>
<g id="r3-alphataur" transform="translate(875,445)"><rect class="p3" width="17" height="17"/><rect class="p4" y="17" width="17" height="17"/><rect class="p3" y="34" width="17" height="17"/><rect class="p2" y="51" width="17" height="17"/><rect class="p1" y="68" width="17" height="17"/><use href="#vg"/><text class="t" x="2" y="106"><tspan class="i">α</tspan><tspan class="sb i" dy="-8">r</tspan><tspan class="sb i" x="12" dy="12">τ</tspan></text></g>
<g id="r3-alphatauc" transform="translate(970,481)"><rect class="p4" width="17" height="17"/><rect class="p4" x="17" width="17" height="17"/><rect class="p1" x="34" width="17" height="17"/><rect class="p2" x="51" width="17" height="17"/><rect class="p3" x="68" width="17" height="17"/><use href="#hg"/><text class="t" x="35" y="37"><tspan class="i">α</tspan><tspan class="sb i" dy="-8">c</tspan><tspan class="sb i" x="45" dy="12">τ</tspan></text></g>
<g id="r3-out-alphar" transform="translate(1151,464)"><rect class="p3" width="17" height="17"/><rect class="p4" y="17" width="17" height="17"/><rect class="p3" y="34" width="17" height="17"/><rect class="p2" y="51" width="17" height="17"/><rect class="p1" y="68" width="17" height="17"/><use href="#vg"/><text class="t" x="2" y="106"><tspan class="i">α</tspan><tspan class="sb i" dy="-8">r</tspan><tspan class="sb i" x="12" dy="12">τ</tspan></text></g>
<text class="op" x="1182" y="515.5">⊗</text>
<g id="r3-out-B" transform="translate(1195,464)"><use href="#mB0"/><text class="t lb" x="42.5" y="107"><tspan class="b">B</tspan><tspan class="sb i" dy="3">τ</tspan></text></g>
<text class="op" x="1238" y="457.5">⊗</text>
<g id="r3-out-alphac" transform="translate(1195,418)"><rect class="p4" width="17" height="17"/><rect class="p4" x="17" width="17" height="17"/><rect class="p1" x="34" width="17" height="17"/><rect class="p2" x="51" width="17" height="17"/><rect class="p3" x="68" width="17" height="17"/><use href="#hg"/><text class="t" x="93" y="15"><tspan class="i">α</tspan><tspan class="sb i" dy="-8">c</tspan><tspan class="sb i" x="103" dy="12">τ</tspan></text></g>

<g id="legend">
<text class="t lg" x="7" y="611"><tspan class="b">W</tspan><tspan class="ls" dy="-8">min</tspan></text>
<rect x="51" y="597" width="160" height="15" fill="url(#gW)" stroke="#222" stroke-width="1"/>
<text class="t lg" x="218" y="611"><tspan class="b">W</tspan><tspan class="ls" dy="-8">max</tspan></text>
<text class="t lg" x="268" y="611"><tspan class="b">X</tspan><tspan class="ls" dy="-8">min</tspan><tspan dy="8">, </tspan><tspan class="b">S</tspan><tspan class="ls" dy="-8">min</tspan></text>
<rect x="364" y="597" width="161" height="15" fill="url(#gX)" stroke="#222" stroke-width="1"/>
<text class="t lg" x="529" y="611"><tspan class="b">X</tspan><tspan class="ls" dy="-8">max</tspan><tspan dy="8">, </tspan><tspan class="b">S</tspan><tspan class="ls" dy="-8">max</tspan></text>
<text class="t lg" x="638" y="611"><tspan class="i">α</tspan><tspan class="ls" dy="-8">min</tspan></text>
<rect x="679" y="597" width="159" height="15" fill="url(#gA)" stroke="#222" stroke-width="1"/>
<text class="t lg" x="842" y="611"><tspan class="i">α</tspan><tspan class="ls" dy="-8">max</tspan></text>
<text class="t lg" x="890" y="611"><tspan class="i">μ</tspan><tspan class="ls" dy="-8">min</tspan></text>
<rect x="937" y="597" width="164" height="15" fill="url(#gM)" stroke="#222" stroke-width="1"/>
<text class="t lg" x="1103" y="611"><tspan class="i">μ</tspan><tspan class="ls" dy="-8">max</tspan></text>
<text class="t lg" x="1147" y="611">+1</text>
<rect x="1180" y="597" width="80" height="15" fill="#808080"/>
<rect x="1180" y="597" width="160" height="15" fill="none" stroke="#222" stroke-width="1"/>
<text class="t lg" x="1343" y="611">−1</text>
</g>
</svg>
